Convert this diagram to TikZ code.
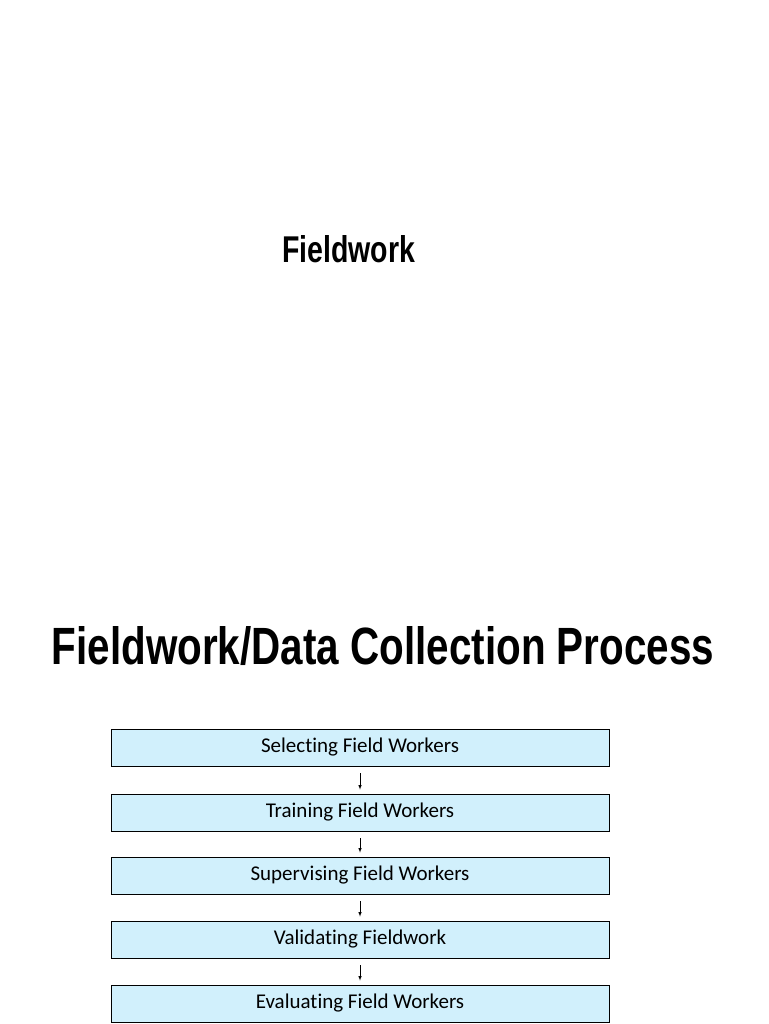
\documentclass[tikz,border=0pt]{standalone}
\usepackage{fontspec}
\setmainfont{Carlito}[Ligatures=NoCommon]
\newfontfamily\titlefont{Liberation Sans}
\begin{document}
\begin{tikzpicture}[x=1pt,y=-1pt,
  stepbox/.style={draw=black, line width=0.8pt, fill=cyan!18, minimum width=498pt, minimum height=37pt, inner sep=0pt, font=\fontsize{21}{24}\selectfont},
  arr/.style={-latex, line width=0.6pt, shorten <=7pt, shorten >=4pt}]
\useasboundingbox (0,0) rectangle (768,1024);
\node[anchor=base, inner sep=0pt] (t1) at (348.5,262) {\resizebox{133pt}{27pt}{\titlefont\bfseries Fieldwork}};
\node[anchor=base, inner sep=0pt] (t2) at (383,664) {\resizebox{662pt}{38pt}{\titlefont\bfseries Fieldwork/Data Collection Process}};
\node[stepbox] (b1) at (360,747.5) {Selecting Field Workers};
\node[stepbox] (b2) at (360,812.5) {Training Field Workers};
\node[stepbox] (b3) at (360,875.5) {Supervising Field Workers};
\node[stepbox] (b4) at (360,939.5) {Validating Fieldwork};
\node[stepbox] (b5) at (360,1003.5) {Evaluating Field Workers};
\foreach \a/\b in {b1/b2,b2/b3,b3/b4,b4/b5} \draw[arr] (\a) -- (\b);
\end{tikzpicture}
\end{document}
